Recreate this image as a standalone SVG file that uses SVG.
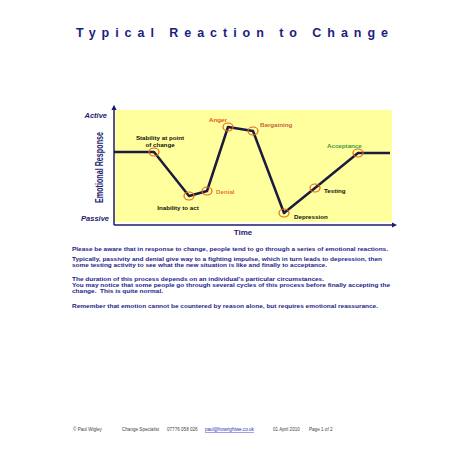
<svg xmlns="http://www.w3.org/2000/svg" width="452" height="452" viewBox="0 0 452 452">
<defs>
<style>
.title{font-family:"Liberation Sans",Arial,sans-serif;font-weight:bold;font-size:12.5px;fill:#1c1c80}
.lbl{font-family:"Liberation Sans",Arial,sans-serif;font-weight:bold;font-size:6.2px;fill:#111}
.ax{font-family:"Liberation Sans",Arial,sans-serif;font-weight:bold;font-style:italic;font-size:7.5px;fill:#1c1c70}
.axt{font-family:"Liberation Sans",Arial,sans-serif;font-weight:bold;font-size:8px;fill:#1c1c70}
.vert{font-family:"Liberation Sans",Arial,sans-serif;font-weight:bold;font-size:10.5px;fill:#1c1c70}
.para{font-family:"Liberation Sans",Arial,sans-serif;font-weight:bold;font-size:5.5px;fill:#24248a}
.foot{font-family:"Liberation Sans",Arial,sans-serif;font-size:4.6px;fill:#444}
.mark{fill:none;stroke:#e8641e;stroke-width:1.2}
.axis{stroke:#1c1c70;stroke-width:1.5;fill:none}
</style>
<marker id="arr" viewBox="0 0 10 10" refX="2" refY="5" markerWidth="3.5" markerHeight="3.5" orient="auto">
<path d="M0,0 L10,5 L0,10 z" fill="#1c1c70"/>
</marker>
</defs>
<rect width="452" height="452" fill="#fff"/>
<text class="title" x="76" y="36.5" textLength="312" lengthAdjust="spacing">Typical Reaction to Change</text>

<g id="chart-bg"><rect x="115" y="110" width="277" height="112" fill="#ffff9e"/></g>
<g id="axes">
<line class="axis" x1="114" y1="225" x2="114" y2="109" marker-end="url(#arr)"/>
<line class="axis" x1="114" y1="225" x2="393" y2="225" marker-end="url(#arr)"/>
<text class="ax" x="107" y="117.5" text-anchor="end">Active</text>
<text class="ax" x="109" y="220.5" text-anchor="end">Passive</text>
<text class="axt" x="243" y="234.5" text-anchor="middle">Time</text>
<text class="vert" transform="translate(103,167.5) rotate(-90)" text-anchor="middle" textLength="71" lengthAdjust="spacingAndGlyphs">Emotional Response</text>
</g>
<g id="connectors">
<polyline points="114,152 154,152 189,196 207,191 228,127 253,131 284,213 315,188 358,153 390,153" fill="none" stroke="#1b1b40" stroke-width="2.5" stroke-linejoin="round"/>
</g>
<g id="stability"><ellipse class="mark" cx="154" cy="152" rx="5" ry="4"/><text class="lbl" x="160" y="140" text-anchor="middle">Stability at point</text><text class="lbl" x="160" y="146.5" text-anchor="middle">of change</text></g>
<g id="inability"><ellipse class="mark" cx="189" cy="196" rx="5" ry="4"/><text class="lbl" x="178" y="209.5" text-anchor="middle">Inability to act</text></g>
<g id="denial"><ellipse class="mark" cx="207" cy="191" rx="5" ry="4"/><text class="lbl" x="216" y="194" style="fill:#e87830">Denial</text></g>
<g id="anger"><ellipse class="mark" cx="228" cy="127" rx="5" ry="4"/><text class="lbl" x="218" y="122" text-anchor="middle" style="fill:#e8581a">Anger</text></g>
<g id="bargaining"><ellipse class="mark" cx="253" cy="131" rx="5" ry="4"/><text class="lbl" x="260" y="127" style="fill:#c8643a">Bargaining</text></g>
<g id="depression"><ellipse class="mark" cx="284" cy="213" rx="5" ry="4"/><text class="lbl" x="294" y="218.5">Depression</text></g>
<g id="testing"><ellipse class="mark" cx="315" cy="188" rx="5" ry="4"/><text class="lbl" x="324" y="193">Testing</text></g>
<g id="acceptance"><ellipse class="mark" cx="358" cy="153" rx="5" ry="4"/><text class="lbl" x="327" y="148" style="fill:#3c9a3c">Acceptance</text></g>

<g id="text">
<text class="para" x="72" y="251" textLength="316" lengthAdjust="spacingAndGlyphs">Please be aware that in response to change, people tend to go through a series of emotional reactions.</text>
<text class="para" x="72" y="261" textLength="310" lengthAdjust="spacingAndGlyphs">Typically, passivity and denial give way to a fighting impulse, which in turn leads to depression, then</text>
<text class="para" x="72" y="267" textLength="255" lengthAdjust="spacingAndGlyphs">some testing activity to see what the new situation is like and finally to acceptance.</text>
<text class="para" x="72" y="281" textLength="252" lengthAdjust="spacingAndGlyphs">The duration of this process depends on an individual’s particular circumstances.</text>
<text class="para" x="72" y="287" textLength="318" lengthAdjust="spacingAndGlyphs">You may notice that some people go through several cycles of this process before finally accepting the</text>
<text class="para" x="72" y="293" textLength="91" lengthAdjust="spacingAndGlyphs" xml:space="preserve">change.  This is quite normal.</text>
<text class="para" x="72" y="308" textLength="306" lengthAdjust="spacingAndGlyphs">Remember that emotion cannot be countered by reason alone, but requires emotional reassurance.</text>
</g>
<g id="footer">
<text class="foot" x="73" y="431">© Paul Wigley</text>
<text class="foot" x="122" y="431">Change Specialist</text>
<text class="foot" x="167" y="431">07776 058 026</text>
<text class="foot" x="205" y="431" style="fill:#3030c0" text-decoration="underline">paul@howrightwe.co.uk</text>
<text class="foot" x="273" y="431">01 April 2010</text>
<text class="foot" x="309" y="431">Page 1 of 2</text>
</g>
</svg>
